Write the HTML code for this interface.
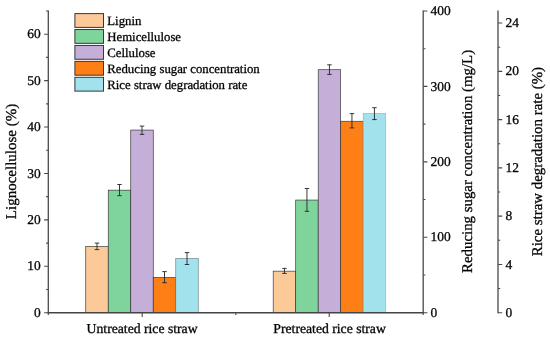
<!DOCTYPE html>
<html lang="en"><head><meta charset="utf-8"><title>Rice straw chart</title>
<style>html,body{margin:0;padding:0;background:#fff}body{width:550px;height:339px;overflow:hidden}svg{display:block}text{font-family:"Liberation Serif",serif;fill:#050505;stroke:#050505;stroke-width:0.3px;text-rendering:geometricPrecision}</style>
</head><body>
<svg width="550" height="339" viewBox="0 0 550 339">
<rect width="550" height="339" fill="#fff"/>
<g stroke-width="0.65">
<rect x="85.75" y="246.33" width="22.50" height="66.37" fill="#fcc998" stroke="#303030"/>
<rect x="108.25" y="190.16" width="22.50" height="122.54" fill="#7fd49c" stroke="#303030"/>
<rect x="130.75" y="130.06" width="22.50" height="182.64" fill="#c5aed8" stroke="#303030"/>
<rect x="153.25" y="277.42" width="22.50" height="35.28" fill="#ff7f17" stroke="#303030"/>
<rect x="175.75" y="258.39" width="22.50" height="54.31" fill="#a1e2ec" stroke="#6f7f82"/>
<rect x="273.20" y="271.16" width="22.50" height="41.54" fill="#fcc998" stroke="#303030"/>
<rect x="295.70" y="200.05" width="22.50" height="112.65" fill="#7fd49c" stroke="#303030"/>
<rect x="318.20" y="69.72" width="22.50" height="242.98" fill="#c5aed8" stroke="#303030"/>
<rect x="340.70" y="121.24" width="22.50" height="191.46" fill="#ff7f17" stroke="#303030"/>
<rect x="363.20" y="113.58" width="22.50" height="199.12" fill="#a1e2ec" stroke="#8fb5bb"/>
</g>
<g stroke="#242424" stroke-width="0.9" fill="none">
<path d="M97.00 243.10V249.60M94.75 243.10H99.25M94.75 249.60H99.25"/>
<path d="M119.50 184.50V195.70M117.25 184.50H121.75M117.25 195.70H121.75"/>
<path d="M142.00 126.10V134.40M139.75 126.10H144.25M139.75 134.40H144.25"/>
<path d="M164.50 271.60V282.70M162.25 271.60H166.75M162.25 282.70H166.75"/>
<path d="M187.00 252.60V264.50M184.75 252.60H189.25M184.75 264.50H189.25"/>
<path d="M284.45 268.40V273.40M282.20 268.40H286.70M282.20 273.40H286.70"/>
<path d="M306.95 188.50V211.30M304.70 188.50H309.20M304.70 211.30H309.20"/>
<path d="M329.45 64.80V74.40M327.20 64.80H331.70M327.20 74.40H331.70"/>
<path d="M351.95 113.60V127.90M349.70 113.60H354.20M349.70 127.90H354.20"/>
<path d="M374.45 107.70V119.60M372.20 107.70H376.70M372.20 119.60H376.70"/>
</g>
<g stroke="#4a4a4a" stroke-width="1.3" fill="none" stroke-linecap="butt">
<path d="M48.30 10.40V313.35"/>
<path d="M423.20 10.40V313.35"/>
<path d="M498.00 10.40V313.35"/>
<path stroke-width="1.4" stroke="#444" d="M47.65 312.70H423.85"/>
</g>
<g stroke="#4a4a4a" stroke-width="1.1" fill="none">
<path d="M48.30 312.70H44.10M48.30 289.49H46.10M48.30 266.28H44.10M48.30 243.08H46.10M48.30 219.87H44.10M48.30 196.66H46.10M48.30 173.45H44.10M48.30 150.25H46.10M48.30 127.04H44.10M48.30 103.83H46.10M48.30 80.62H44.10M48.30 57.42H46.10M48.30 34.21H44.10M48.30 11.00H46.10M423.20 312.70H427.40M423.20 274.99H425.40M423.20 237.27H427.40M423.20 199.56H425.40M423.20 161.85H427.40M423.20 124.14H425.40M423.20 86.42H427.40M423.20 48.71H425.40M423.20 11.00H427.40M498.00 312.70H502.20M498.00 288.56H500.20M498.00 264.43H502.20M498.00 240.29H500.20M498.00 216.16H502.20M498.00 192.02H500.20M498.00 167.88H502.20M498.00 143.75H500.20M498.00 119.61H502.20M498.00 95.48H500.20M498.00 71.34H502.20M498.00 47.20H500.20M498.00 23.07H502.20M142.20 312.70V316.90M329.20 312.70V316.90M235.80 312.70V314.90M48.30 312.70V314.90M423.20 312.70V314.90"/>
</g>
<g font-size="13.45">
<g text-anchor="end">
<text x="40.7" y="316.85">0</text>
<text x="40.7" y="270.43">10</text>
<text x="40.7" y="224.02">20</text>
<text x="40.7" y="177.60">30</text>
<text x="40.7" y="131.19">40</text>
<text x="40.7" y="84.77">50</text>
<text x="40.7" y="38.36">60</text>
</g>
<text x="430.5" y="316.85">0</text>
<text x="430.5" y="241.42">100</text>
<text x="430.5" y="166.00">200</text>
<text x="430.5" y="90.57">300</text>
<text x="430.5" y="15.15">400</text>
<text x="505.5" y="316.85">0</text>
<text x="505.5" y="268.58">4</text>
<text x="505.5" y="220.31">8</text>
<text x="505.5" y="172.03">12</text>
<text x="505.5" y="123.76">16</text>
<text x="505.5" y="75.49">20</text>
<text x="505.5" y="27.22">24</text>
</g>
<g font-size="13.7" text-anchor="middle">
<text x="142.1" y="332.9">Untreated rice straw</text>
<text x="329.6" y="332.9">Pretreated rice straw</text>
</g>
<g text-anchor="middle" style="stroke-width:0.2px">
<text font-size="15" transform="translate(16.3 161.5) rotate(-90)">Lignocellulose (%)</text>
<text font-size="14.85" transform="translate(471.7 161.4) rotate(-90)">Reducing sugar concentration (mg/L)</text>
<text font-size="14.9" transform="translate(542.3 161.6) rotate(-90)">Rice straw degradation rate (%)</text>
</g>
<g font-size="12.78">
<rect x="74.9" y="13.60" width="28.6" height="13.8" fill="#fcc998" stroke="#383838" stroke-width="1"/>
<text x="107.3" y="24.90">Lignin</text>
<rect x="74.9" y="29.53" width="28.6" height="13.8" fill="#7fd49c" stroke="#383838" stroke-width="1"/>
<text x="107.3" y="41.00">Hemicellulose</text>
<rect x="74.9" y="45.46" width="28.6" height="13.8" fill="#c5aed8" stroke="#383838" stroke-width="1"/>
<text x="107.3" y="57.10">Cellulose</text>
<rect x="74.9" y="61.39" width="28.6" height="13.8" fill="#ff7f17" stroke="#383838" stroke-width="1"/>
<text x="107.3" y="73.20">Reducing sugar concentration</text>
<rect x="74.9" y="77.32" width="28.6" height="13.8" fill="#a1e2ec" stroke="#383838" stroke-width="1"/>
<text x="107.3" y="89.30">Rice straw degradation rate</text>
</g>
</svg>
</body></html>
